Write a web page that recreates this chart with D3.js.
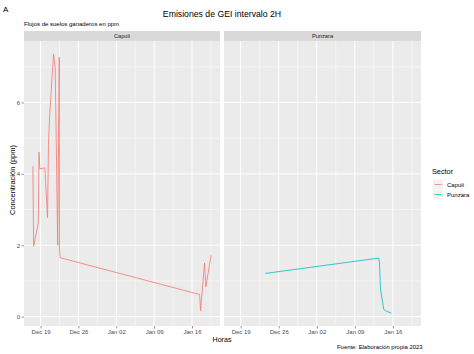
<!DOCTYPE html>
<html>
<head>
<meta charset="utf-8">
<script src="https://cdn.jsdelivr.net/npm/d3@7"></script>
<style>
body { margin: 0; background: white; }
text { font-family: "Liberation Sans", Arial, sans-serif; }
</style>
</head>
<body>
<svg id="chart" width="474" height="354"></svg>
<script>
// data
var sectors = ["Capuli", "Punzara"];
var colors = ["#F8766D", "#00BFC4"];

var capuliTimes = ["2022-12-17T14:00", "2022-12-17T17:00", "2022-12-18T14:00", "2022-12-18T17:00",
  "2022-12-18T21:00", "2022-12-19T19:00", "2022-12-20T07:00", "2022-12-20T11:00", "2022-12-20T16:30",
  "2022-12-21T09:30", "2022-12-21T17:00", "2022-12-22T04:00", "2022-12-22T11:00", "2022-12-22T12:00",
  "2022-12-22T15:00", "2023-01-17T10:00", "2023-01-17T14:00", "2023-01-18T07:30", "2023-01-18T13:45",
  "2023-01-19T12:45"];
var capuliValues = [4.21, 1.97, 2.63, 4.61, 4.14, 4.17, 2.77, 4.82, 5.65, 7.36, 6.98, 2.0, 7.27, 1.88,
  1.65, 0.62, 0.16, 1.5, 0.84, 1.72];

var punzaraTimes = ["2022-12-23T13:00", "2023-01-13T10:00", "2023-01-13T13:00", "2023-01-13T17:30",
  "2023-01-14T08:00", "2023-01-14T20:00", "2023-01-15T17:00"];
var punzaraValues = [1.21, 1.64, 1.5, 0.76, 0.2, 0.15, 0.1];

var xTicks = ["2022-12-19", "2022-12-26", "2023-01-02", "2023-01-09", "2023-01-16"];
var yTicks = [0, 2, 4, 6];

var parseTime = d3.timeParse("%Y-%m-%dT%H:%M");
var parseDay = d3.timeParse("%Y-%m-%d");

var series = [
  capuliTimes.map(function(t, i) { return { t: parseTime(t), v: capuliValues[i] }; }),
  punzaraTimes.map(function(t, i) { return { t: parseTime(t), v: punzaraValues[i] }; })
];

var svg = d3.select("#chart");
var panels = [[24, 220], [224, 421]];
var plotTop = 41, plotBottom = 326;

// ggplot style 5% expansion
var allPts = series[0].concat(series[1]);
var tExt = d3.extent(allPts, function(d) { return d.t; });
var tPad = (tExt[1] - tExt[0]) * 0.05;
var vExt = d3.extent(allPts, function(d) { return d.v; });
var vPad = (vExt[1] - vExt[0]) * 0.05;

var y = d3.scaleLinear().domain([vExt[0] - vPad, vExt[1] + vPad]).range([plotBottom, plotTop]);

var tickDates = xTicks.map(parseDay);
var step = tickDates[1] - tickDates[0];
var minorDates = [new Date(+tickDates[0] - step / 2)];
for (var i = 0; i < tickDates.length; i++) {
  minorDates.push(new Date(+tickDates[i] + step / 2));
}
var yMinor = [1, 3, 5, 7];

var fmt = d3.timeFormat("%b %d");

panels.forEach(function(p, k) {
  var x = d3.scaleTime().domain([new Date(+tExt[0] - tPad), new Date(+tExt[1] + tPad)]).range(p);
  var g = svg.append("g");

  g.append("rect").attr("x", p[0]).attr("y", plotTop).attr("width", p[1] - p[0])
    .attr("height", plotBottom - plotTop).attr("fill", "#EBEBEB");

  // minor grid
  g.selectAll(".mx").data(minorDates.filter(function(d) { return x(d) > p[0] && x(d) < p[1]; }))
    .enter().append("line")
    .attr("x1", function(d) { return x(d); }).attr("x2", function(d) { return x(d); })
    .attr("y1", plotTop).attr("y2", plotBottom).attr("stroke", "white").attr("stroke-width", 0.5);
  g.selectAll(".my").data(yMinor).enter().append("line")
    .attr("x1", p[0]).attr("x2", p[1])
    .attr("y1", function(d) { return y(d); }).attr("y2", function(d) { return y(d); })
    .attr("stroke", "white").attr("stroke-width", 0.5);
  // major grid
  g.selectAll(".Mx").data(tickDates).enter().append("line")
    .attr("x1", function(d) { return x(d); }).attr("x2", function(d) { return x(d); })
    .attr("y1", plotTop).attr("y2", plotBottom).attr("stroke", "white").attr("stroke-width", 1);
  g.selectAll(".My").data(yTicks).enter().append("line")
    .attr("x1", p[0]).attr("x2", p[1])
    .attr("y1", function(d) { return y(d); }).attr("y2", function(d) { return y(d); })
    .attr("stroke", "white").attr("stroke-width", 1);

  // strip
  g.append("rect").attr("x", p[0]).attr("y", 31).attr("width", p[1] - p[0]).attr("height", 10)
    .attr("fill", "#D9D9D9");
  g.append("text").attr("x", (p[0] + p[1]) / 2).attr("y", 38).attr("text-anchor", "middle")
    .attr("font-size", "5.7px").attr("fill", "#1A1A1A").text(sectors[k]);

  // data line
  var line = d3.line().x(function(d) { return x(d.t); }).y(function(d) { return y(d.v); });
  g.append("path").datum(series[k]).attr("d", line).attr("fill", "none")
    .attr("stroke", colors[k]).attr("stroke-width", 0.8);

  // x axis
  var xa = g.append("g").attr("transform", "translate(0," + plotBottom + ")")
    .call(d3.axisBottom(x).tickValues(tickDates).tickFormat(fmt).tickSize(2.5).tickPadding(1.5));
  xa.select(".domain").remove();
  xa.selectAll("line").attr("stroke", "#333333").attr("stroke-width", 0.5);
  xa.selectAll("text").attr("font-size", "6px").attr("fill", "#4D4D4D")
    .style("font-family", "Liberation Sans, Arial, sans-serif");
});

// y axis
var ya = svg.append("g").attr("transform", "translate(" + panels[0][0] + ",0)")
  .call(d3.axisLeft(y).tickValues(yTicks).tickSize(2.5).tickPadding(1.5));
ya.select(".domain").remove();
ya.selectAll("line").attr("stroke", "#333333").attr("stroke-width", 0.5);
ya.selectAll("text").attr("font-size", "6px").attr("fill", "#4D4D4D")
  .style("font-family", "Liberation Sans, Arial, sans-serif");

// titles
svg.append("text").attr("x", 3).attr("y", 11.5).attr("font-size", "8px").attr("fill", "#000").text("A");
svg.append("text").attr("x", 222).attr("y", 16.7).attr("text-anchor", "middle")
  .attr("font-size", "8.7px").attr("fill", "#000").text("Emisiones de GEI intervalo 2H");
svg.append("text").attr("x", 24).attr("y", 26.2).attr("font-size", "6px").attr("fill", "#000")
  .text("Flujos de suelos ganaderos en ppm");
svg.append("text").attr("x", 222).attr("y", 342).attr("text-anchor", "middle")
  .attr("font-size", "7.1px").attr("fill", "#000").text("Horas");
svg.append("text").attr("transform", "translate(14.5,180) rotate(-90)")
  .attr("text-anchor", "middle").attr("font-size", "7.5px").attr("fill", "#000")
  .text("Concentración (ppm)");
svg.append("text").attr("x", 422.5).attr("y", 349).attr("text-anchor", "end")
  .attr("font-size", "5.9px").attr("fill", "#000").text("Fuente: Elaboración propia 2023");

// legend
var lg = svg.append("g").attr("transform", "translate(432,0)");
lg.append("text").attr("x", 0).attr("y", 174).attr("font-size", "7.3px").attr("fill", "#000").text("Sector");
var items = lg.selectAll(".it").data(sectors).enter().append("g")
  .attr("transform", function(d, i) { return "translate(1," + (179.5 + i * 10) + ")"; });
items.append("rect").attr("width", 10).attr("height", 10).attr("fill", "#F2F2F2");
items.append("line").attr("x1", 1.5).attr("x2", 8.5).attr("y1", 5).attr("y2", 5)
  .attr("stroke", function(d, i) { return colors[i]; }).attr("stroke-width", 0.8);
items.append("text").attr("x", 14).attr("y", 7).attr("font-size", "6px").attr("fill", "#000")
  .text(function(d) { return d; });
</script>
</body>
</html>
